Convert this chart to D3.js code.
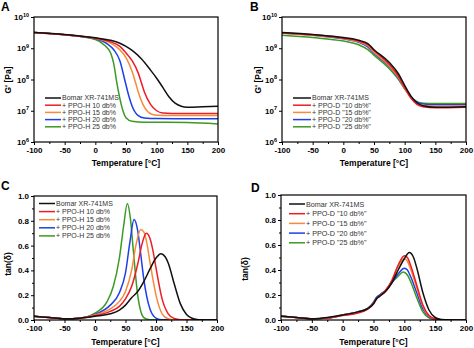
<!DOCTYPE html>
<html>
<head>
<meta charset="utf-8">
<script src="https://cdn.jsdelivr.net/npm/d3@7"></script>
<style>
  body { margin: 0; background: #fff; }
  text { font-family: "Liberation Sans", Arial, sans-serif; }
</style>
</head>
<body>
<svg id="chart" width="474" height="348"></svg>
<script>
// ---- data: [temperature °C, value] ----
var xTicks = [-100, -50, 0, 50, 100, 150, 200];
var xMinor = [-75, -25, 25, 75, 125, 175];
var logTicks = [1e6, 1e7, 1e8, 1e9, 1e10];
var tanTicks = [0, 0.2, 0.4, 0.6, 0.8, 1.0];
var tanMinor = [0.1, 0.3, 0.5, 0.7, 0.9];

var colors = ["#111111", "#ee1c25", "#f68a3a", "#1f3fe6", "#3b9a22"];
var namesH = ["Bomar XR-741MS", "+ PPO-H 10 db%", "+ PPO-H 15 db%", "+ PPO-H 20 db%", "+ PPO-H 25 db%"];
var namesD = ["Bomar XR-741MS", "+ PPO-D \"10 db%\"", "+ PPO-D \"15 db%\"", "+ PPO-D \"20 db%\"", "+ PPO-D \"25 db%\""];

// A: G' of PPO-H blends
var gH_ref = [[-100,3.2e9],[-50,2.75e9],[0,2.15e9],[25,1.8e9],[40,1.45e9],[50,1.15e9],[60,8.5e8],[75,4.6e8],[90,2.0e8],[100,1.1e8],[110,5.6e7],[120,2.8e7],[130,1.75e7],[140,1.4e7],[150,1.3e7],[175,1.35e7],[200,1.4e7]];
var gH_10 = [[-100,3.2e9],[-50,2.7e9],[0,2.1e9],[25,1.6e9],[40,1.15e9],[50,7.1e8],[60,4.0e8],[70,1.6e8],[75,8.0e7],[80,4.0e7],[90,1.6e7],[100,1.0e7],[110,8.5e6],[125,8.2e6],[200,8.2e6]];
var gH_15 = [[-100,3.2e9],[-50,2.7e9],[0,2.05e9],[25,1.45e9],[40,8.9e8],[50,5.0e8],[60,1.8e8],[66,7.4e7],[70,4.0e7],[80,1.3e7],[90,8.0e6],[100,7.2e6],[125,7.0e6],[200,7.0e6]];
var gH_20 = [[-100,3.2e9],[-50,2.7e9],[0,2.0e9],[20,1.35e9],[30,9.0e8],[40,4.0e8],[49,8.0e7],[55,2.8e7],[60,1.4e7],[70,7.0e6],[80,5.9e6],[100,5.6e6],[200,5.5e6]];
var gH_25 = [[-100,3.2e9],[-50,2.7e9],[0,1.9e9],[15,1.25e9],[25,7.0e8],[30,3.2e8],[35,8.0e7],[40,2.5e7],[45,1.0e7],[50,6.0e6],[60,4.6e6],[80,4.3e6],[150,4.2e6],[200,3.8e6]];

// B: G' of PPO-D blends
var gD_ref = [[-100,3.2e9],[-50,2.75e9],[0,2.2e9],[25,1.8e9],[40,1.4e9],[50,9.0e8],[75,3.5e8],[90,1.5e8],[100,6.5e7],[110,3.0e7],[120,1.8e7],[130,1.45e7],[150,1.3e7],[200,1.35e7]];
var gD_10 = [[-100,3.1e9],[-50,2.7e9],[0,2.1e9],[25,1.7e9],[40,1.3e9],[50,8.5e8],[75,3.0e8],[90,1.25e8],[100,5.5e7],[110,2.6e7],[120,1.6e7],[130,1.35e7],[150,1.25e7],[200,1.3e7]];
var gD_15 = [[-100,3.0e9],[-50,2.6e9],[0,2.05e9],[25,1.6e9],[40,1.2e9],[50,7.5e8],[75,2.7e8],[90,1.15e8],[100,5.2e7],[110,2.6e7],[120,1.7e7],[130,1.5e7],[150,1.4e7],[200,1.45e7]];
var gD_20 = [[-100,3.1e9],[-50,2.6e9],[0,2.0e9],[25,1.55e9],[40,1.1e9],[50,7.0e8],[75,2.6e8],[90,1.1e8],[100,5.3e7],[110,2.8e7],[120,1.9e7],[130,1.65e7],[150,1.55e7],[200,1.55e7]];
var gD_25 = [[-100,2.6e9],[-50,2.2e9],[0,1.7e9],[25,1.3e9],[40,9.0e8],[50,6.0e8],[75,2.2e8],[90,1.0e8],[100,5.0e7],[110,2.8e7],[120,1.95e7],[130,1.75e7],[150,1.7e7],[200,1.7e7]];

// C: tan(delta) of PPO-H blends
var tH_ref = [[-100,0.03],[-75,0.02],[-50,0.01],[-25,0.015],[0,0.03],[25,0.05],[40,0.08],[50,0.12],[60,0.18],[70,0.23],[80,0.31],[90,0.41],[100,0.5],[108,0.535],[115,0.51],[120,0.46],[130,0.29],[140,0.13],[150,0.045],[160,0.012],[170,0.002],[200,0]];
var tH_10 = [[-100,0.03],[-75,0.02],[-50,0.01],[-25,0.015],[0,0.035],[25,0.07],[40,0.11],[50,0.17],[60,0.27],[70,0.45],[78,0.63],[84,0.7],[90,0.66],[95,0.56],[100,0.42],[110,0.17],[120,0.05],[130,0.012],[140,0.002],[200,0]];
var tH_15 = [[-100,0.03],[-75,0.02],[-50,0.01],[-25,0.015],[0,0.04],[25,0.09],[40,0.15],[50,0.23],[60,0.4],[67,0.6],[75,0.73],[80,0.71],[85,0.62],[90,0.47],[100,0.2],[110,0.05],[120,0.01],[130,0.002],[200,0]];
var tH_20 = [[-100,0.03],[-75,0.02],[-50,0.01],[-25,0.015],[0,0.045],[25,0.12],[40,0.22],[50,0.38],[57,0.62],[64,0.81],[70,0.72],[75,0.53],[80,0.33],[90,0.09],[100,0.015],[110,0.002],[200,0]];
var tH_25 = [[-100,0.03],[-75,0.02],[-50,0.01],[-25,0.015],[0,0.055],[20,0.15],[30,0.27],[40,0.5],[47,0.76],[53,0.94],[58,0.82],[63,0.55],[70,0.2],[75,0.07],[80,0.02],[90,0.003],[200,0]];

// D: tan(delta) of PPO-D blends
var tD_ref = [[-100,0.03],[-75,0.02],[-50,0.01],[-25,0.02],[0,0.04],[25,0.065],[40,0.09],[50,0.13],[55,0.17],[60,0.19],[70,0.23],[80,0.3],[90,0.4],[100,0.49],[108,0.54],[115,0.5],[120,0.42],[130,0.22],[140,0.08],[150,0.02],[160,0.004],[200,0]];
var tD_10 = [[-100,0.03],[-75,0.02],[-50,0.01],[-25,0.015],[0,0.035],[25,0.055],[40,0.085],[50,0.13],[55,0.17],[60,0.19],[70,0.24],[80,0.32],[90,0.44],[100,0.515],[105,0.5],[110,0.44],[120,0.28],[130,0.12],[140,0.035],[150,0.008],[160,0.001],[200,0]];
var tD_15 = [[-100,0.03],[-75,0.02],[-50,0.01],[-25,0.015],[0,0.04],[25,0.06],[40,0.09],[50,0.13],[55,0.17],[60,0.19],[70,0.24],[80,0.31],[90,0.43],[100,0.49],[105,0.47],[110,0.41],[120,0.26],[130,0.11],[140,0.03],[150,0.007],[160,0.001],[200,0]];
var tD_20 = [[-100,0.03],[-75,0.02],[-50,0.01],[-25,0.015],[0,0.04],[25,0.065],[40,0.09],[50,0.14],[55,0.18],[60,0.2],[70,0.24],[80,0.3],[90,0.37],[100,0.415],[105,0.4],[110,0.35],[120,0.22],[130,0.09],[140,0.025],[150,0.005],[160,0.001],[200,0]];
var tD_25 = [[-100,0.035],[-75,0.02],[-50,0.01],[-25,0.015],[0,0.04],[25,0.065],[40,0.09],[50,0.14],[55,0.18],[60,0.2],[70,0.24],[80,0.3],[90,0.35],[98,0.385],[105,0.36],[110,0.31],[120,0.18],[130,0.065],[140,0.018],[150,0.004],[200,0]];

var svg = d3.select("#chart");

var panels = [
  { letter: "A", lx: 1, ly: 11, box: [34, 218, 17, 142], log: true, series: [gH_ref, gH_10, gH_15, gH_20, gH_25],
    names: namesH, leg: { x0: 45, x1: 61, y: 98, dy: 7.2, fs: 7 }, ytx: 8, yty: 80, xty: 166 },
  { letter: "B", lx: 250, ly: 11, box: [282, 466, 17, 142], log: true, series: [gD_ref, gD_10, gD_15, gD_20, gD_25],
    names: namesD, leg: { x0: 293, x1: 311, y: 98, dy: 7.2, fs: 7 }, ytx: 258, yty: 80, xty: 166 },
  { letter: "C", lx: 1, ly: 190, box: [34, 217, 196, 320], log: false, series: [tH_ref, tH_10, tH_15, tH_20, tH_25],
    names: namesH, leg: { x0: 39, x1: 55, y: 203.5, dy: 8.1, fs: 7 }, ytx: 8, yty: 264, xty: 345 },
  { letter: "D", lx: 251, ly: 192, box: [281, 466, 195, 320], log: false, series: [tD_ref, tD_10, tD_15, tD_20, tD_25],
    names: namesD, leg: { x0: 289, x1: 305, y: 204, dy: 9.7, fs: 7.2 }, ytx: 245, yty: 269, xty: 345 }
];

panels.forEach(function(p) {
  var b = p.box;
  var x = d3.scaleLinear().domain([-100, 200]).range([b[0], b[1]]);
  var y = p.log
    ? d3.scaleLog().domain([1e6, 1e10]).range([b[3], b[2]])
    : d3.scaleLinear().domain([0, 1]).range([b[3], b[2]]);

  var g = svg.append("g");

  // curves (clipped to the frame)
  var clipId = "clip" + p.letter;
  g.append("clipPath").attr("id", clipId)
    .append("rect").attr("x", b[0]).attr("y", b[2]).attr("width", b[1] - b[0]).attr("height", b[3] - b[2]);

  var line = d3.line()
    .x(function(d) { return x(d[0]); })
    .y(function(d) { return y(d[1]); })
    .curve(d3.curveMonotoneX);

  // coloured curves first, reference (black) on top
  var order = [4, 3, 2, 1, 0];
  order.forEach(function(i) {
    g.append("path")
      .datum(p.series[i])
      .attr("clip-path", "url(#" + clipId + ")")
      .attr("fill", "none")
      .attr("stroke", colors[i])
      .attr("stroke-width", 1.5)
      .attr("d", line);
  });

  // x axis
  g.append("g").attr("transform", "translate(0," + b[3] + ")")
    .call(d3.axisBottom(x).tickValues(xTicks).tickSize(3).tickPadding(2).tickFormat(function(d) { return String(d); }));
  g.append("g").attr("transform", "translate(0," + b[3] + ")")
    .call(d3.axisBottom(x).tickValues(xMinor).tickSize(2).tickFormat(""));

  // y axis
  if (p.log) {
    g.append("g").attr("transform", "translate(" + b[0] + ",0)")
      .call(d3.axisLeft(y).tickValues(logTicks).tickSize(3).tickFormat(""));
    logTicks.forEach(function(v) {
      var t = g.append("text")
        .attr("x", b[0] - 5).attr("y", y(v) + 3)
        .attr("text-anchor", "end")
        .attr("font-size", 8).attr("font-weight", "bold");
      t.append("tspan").text("10");
      t.append("tspan").attr("font-size", 5.5).attr("dy", -3.5).text(Math.round(Math.log10(v)));
    });
  } else {
    g.append("g").attr("transform", "translate(" + b[0] + ",0)")
      .call(d3.axisLeft(y).tickValues(tanTicks).tickSize(3).tickPadding(2).tickFormat(d3.format(".1f")));
    g.append("g").attr("transform", "translate(" + b[0] + ",0)")
      .call(d3.axisLeft(y).tickValues(tanMinor).tickSize(2).tickFormat(""));
  }

  g.selectAll(".domain").remove();
  g.selectAll(".tick line").attr("stroke", "#000").attr("stroke-width", 1);
  g.selectAll(".tick text").attr("font-size", 8).attr("font-weight", "bold").attr("fill", "#000")
    .style("font-family", "'Liberation Sans', Arial, sans-serif");

  // frame
  g.append("rect")
    .attr("x", b[0]).attr("y", b[2])
    .attr("width", b[1] - b[0]).attr("height", b[3] - b[2])
    .attr("fill", "none").attr("stroke", "#000").attr("stroke-width", 1.2);

  // axis titles
  g.append("text")
    .attr("x", (b[0] + b[1]) / 2).attr("y", p.xty)
    .attr("text-anchor", "middle").attr("font-size", 8.5).attr("font-weight", "bold")
    .text("Temperature [°C]");
  g.append("text")
    .attr("transform", "translate(" + p.ytx + "," + p.yty + ") rotate(-90)")
    .attr("text-anchor", "middle").attr("dy", "0.35em").attr("font-size", 8.5).attr("font-weight", "bold")
    .text(p.log ? "G' [Pa]" : "tan(δ)");

  // panel letter
  g.append("text")
    .attr("x", p.lx).attr("y", p.ly)
    .attr("font-size", 12).attr("font-weight", "bold")
    .text(p.letter);

  // legend
  var L = p.leg;
  p.names.forEach(function(name, i) {
    var yy = L.y + i * L.dy;
    g.append("line")
      .attr("x1", L.x0).attr("x2", L.x1).attr("y1", yy).attr("y2", yy)
      .attr("stroke", colors[i]).attr("stroke-width", 1.5);
    g.append("text")
      .attr("x", L.x1 + 1).attr("y", yy).attr("dy", "0.35em")
      .attr("font-size", L.fs).attr("fill", "#333")
      .text(name);
  });
});
</script>
</body>
</html>
